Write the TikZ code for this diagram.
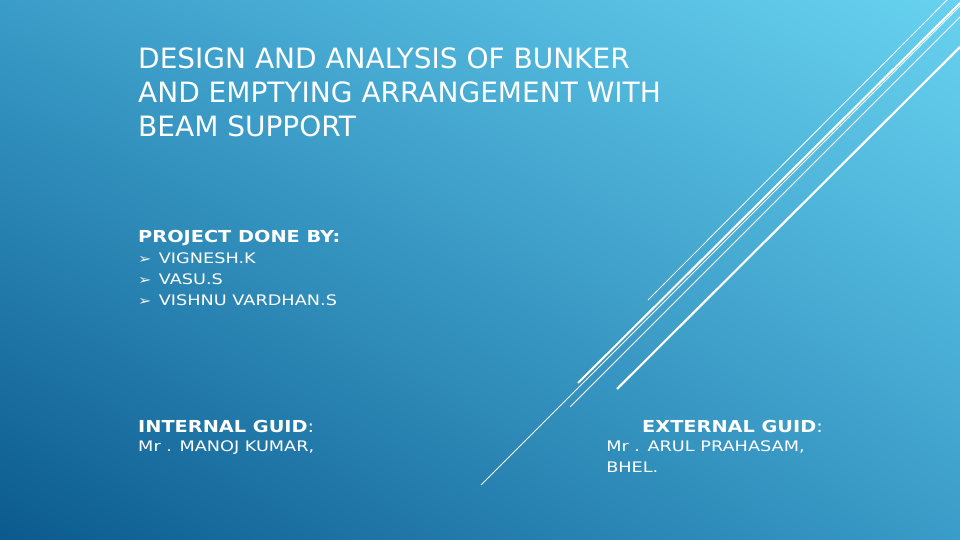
\documentclass[tikz,border=0pt]{standalone}
\usepackage{fontspec}
\setmainfont{DejaVu Sans}
\usetikzlibrary{shadings}
\definecolor{dk}{HTML}{0B5A8E}
\definecolor{lt}{HTML}{68D2F0}
\definecolor{md}{HTML}{3A9CC8}
\newcommand{\bul}{{\fontsize{13}{21}\selectfont\symbol{"27A2}}\hspace{6pt}}
\begin{document}
\begin{tikzpicture}[x=1pt,y=-1pt,
  ttl/.style={anchor=north west,text=white,font=\fontsize{28}{34}\selectfont,align=left,inner sep=0},
  hd/.style={anchor=north west,text=white,font=\fontsize{16.5}{21}\selectfont\bfseries,inner sep=0,xscale=1.17},
  it/.style={anchor=north west,text=white,font=\fontsize{14.5}{21}\selectfont,align=left,inner sep=0,xscale=1.22},
  ln/.style={white,line width=#1}]
\shade[lower left=dk,upper right=lt,upper left=md,lower right=md] (0,540) rectangle (960,0);
\useasboundingbox (0,0) rectangle (960,540);
\node[ttl] (t) at (138,48) {DESIGN AND ANALYSIS OF BUNKER\\AND EMPTYING ARRANGEMENT WITH\\BEAM SUPPORT};
\node[hd] (p) at (138,230) {PROJECT DONE BY:};
\node[it] (n) at (138,253) {\bul VIGNESH.K\\\bul VASU.S\\\bul VISHNU VARDHAN.S};
\node[hd] (ig) at (138,420) {INTERNAL GUID\mdseries:};
\node[it] (im) at (138,441) {Mr . MANOJ KUMAR,};
\node[hd] (eg) at (642,420) {EXTERNAL GUID\mdseries:};
\node[it] (em) at (606,441) {Mr . ARUL PRAHASAM,\\BHEL.};
\coordinate (a1) at (648,300); \coordinate (b1) at (947,0);
\coordinate (a2) at (578,383); \coordinate (b2) at (960,3);
\coordinate (a3) at (570,407); \coordinate (b3) at (960,17);
\coordinate (a4) at (617,389); \coordinate (b4) at (960,47);
\coordinate (a5) at (481,485); \coordinate (b5) at (960,6);
\draw[ln=0.8] (a1)--(b1);
\draw[ln=2] (a2)--(b2);
\draw[ln=1] (a3)--(b3);
\draw[ln=2.2] (a4)--(b4);
\draw[ln=0.8] (a5)--(b5);
\end{tikzpicture}
\end{document}
